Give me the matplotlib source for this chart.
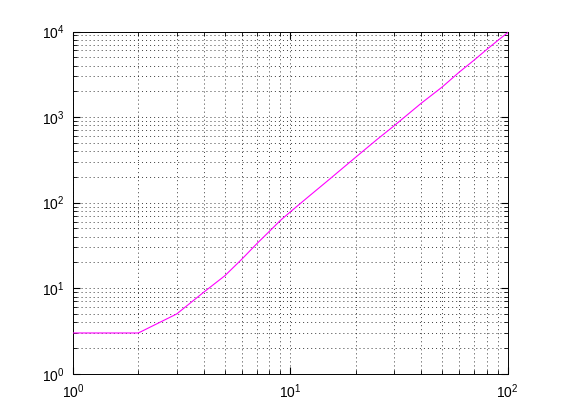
#!/usr/bin/env python
# -*- coding: utf-8 -*-

"""
Log-log plot of a growth curve, MATLAB style (dotted full grid, magenta line)
"""

import matplotlib
matplotlib.use('Agg')
import matplotlib.pyplot as plt
from matplotlib.ticker import LogLocator, NullFormatter

# values
n_vals = [1, 2, 3, 4, 5, 6, 7, 8, 9, 10, 12, 15, 20, 25, 30, 40, 50,
          60, 70, 80, 90, 100]
y_vals = [3, 3, 5, 9, 14, 22, 33, 46, 62, 78, 115, 184, 340, 545, 790,
          1450, 2250, 3370, 4620, 6150, 7850, 9700]

x_lim = [1, 100]
y_lim = [1, 1e4]


def main():

    plt.rcParams['font.family'] = ['Liberation Sans', 'DejaVu Sans']
    plt.rcParams['mathtext.default'] = 'regular'

    fig = plt.figure(figsize=(5.61, 4.2), dpi=100)
    fig.patch.set_facecolor('white')
    ax = fig.add_axes([0.13, 0.11, 0.775, 0.815])

    ax.set_xscale('log')
    ax.set_yscale('log')
    ax.plot(n_vals, y_vals, color='#ff00ff', linewidth=0.8, zorder=3)

    ax.set_xlim(x_lim)
    ax.set_ylim(y_lim)

    for axis in [ax.xaxis, ax.yaxis]:
        axis.set_major_locator(LogLocator(base=10))
        axis.set_minor_locator(LogLocator(base=10, subs=range(2, 10)))
        axis.set_minor_formatter(NullFormatter())

    # MATLAB-like sparse dotted grid (single-pixel dots, ~4 px apart)
    ax.grid(True, which='both', color='k', linestyle=(0, (1.5, 4.3)),
            linewidth=0.5)
    ax.tick_params(which='both', direction='in', top=True, right=True,
                   labelsize=10, colors='k')
    ax.tick_params(which='major', length=5, pad=6)
    ax.tick_params(which='minor', length=3)
    for sp in ax.spines.values():
        sp.set_linewidth(0.7)

    fig.savefig('out.png', dpi=100, facecolor='white')


if __name__ == "__main__":
    main()
